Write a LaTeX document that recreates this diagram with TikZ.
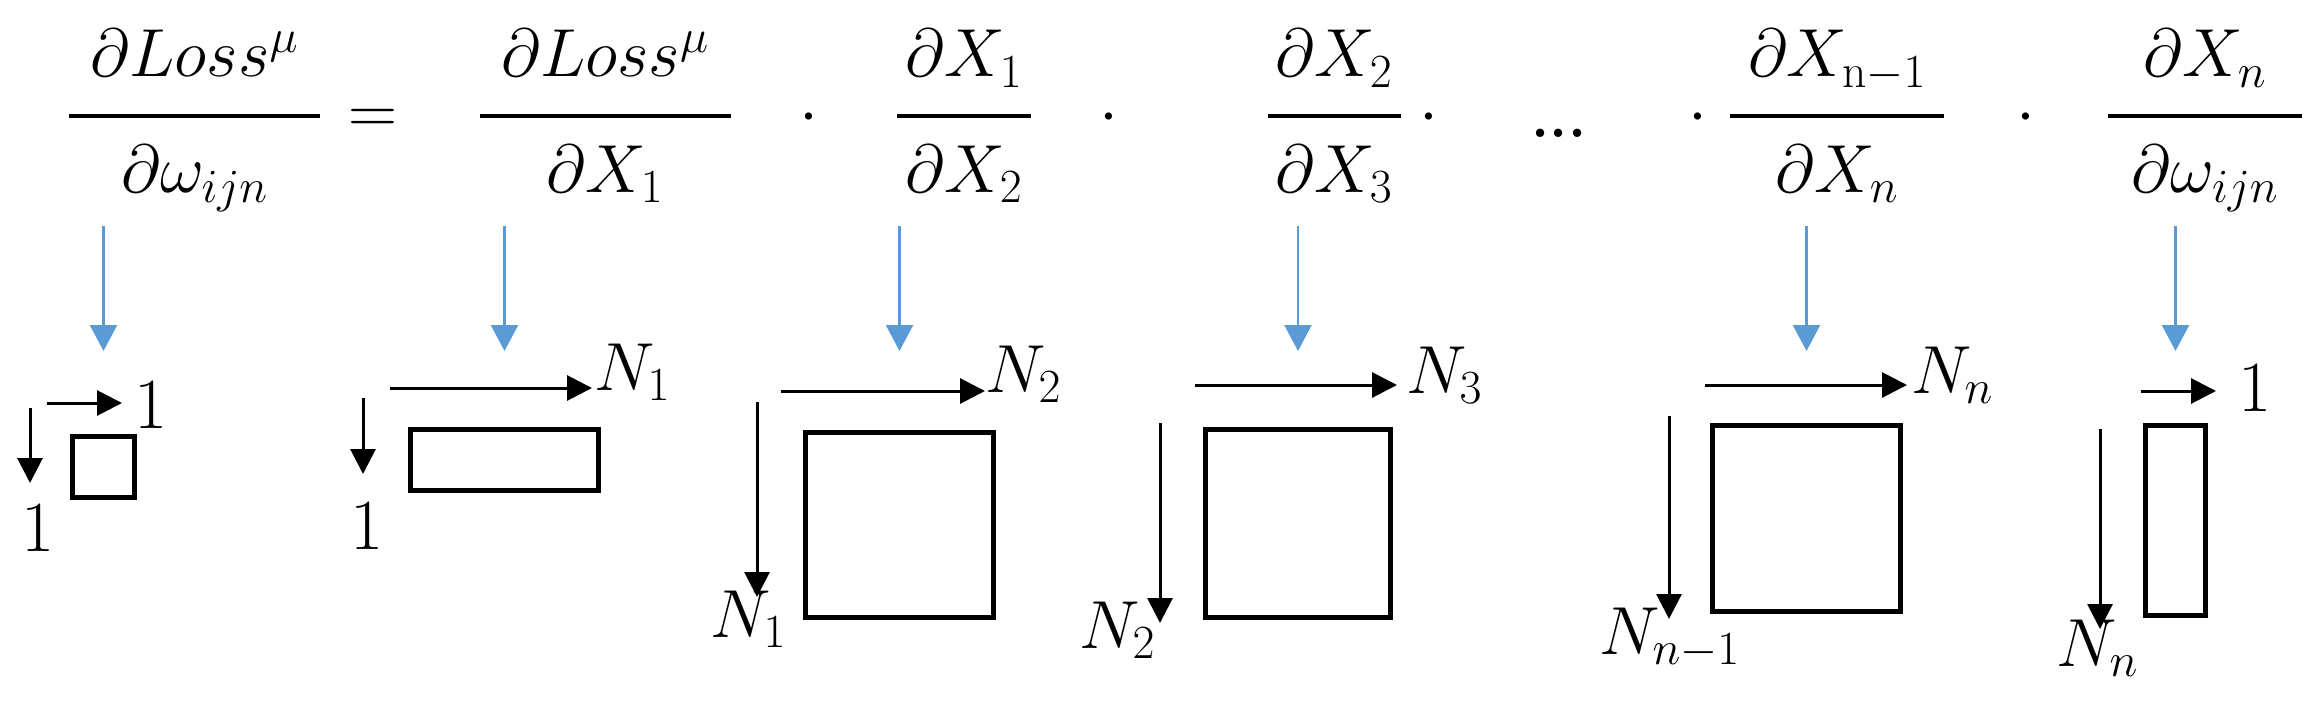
\RequirePackage{fix-cm}
\documentclass[tikz,border=0pt]{standalone}
\usepackage{amsmath}
\usetikzlibrary{arrows.meta}
\definecolor{refblue}{RGB}{91,155,213}
\tikzset{
  mt/.style={inner sep=0pt, font=\fontsize{68}{80}\selectfont},
  one/.style={inner sep=0pt, font=\fontsize{72}{84}\selectfont},
  dotsty/.style={inner sep=0pt, font=\fontsize{58}{70}\selectfont\bfseries},
  fbar/.style={line width=4pt},
  barrow/.style={draw=refblue, line width=2.5pt, -{Triangle[width=27pt,length=26pt]}},
  karrow/.style={draw=black, line width=3pt, -{Triangle[width=25pt,length=25pt]}},
  mat/.style={draw=black, line width=5pt, inner sep=0pt, outer sep=0pt, rectangle}
}
\begin{document}
\begin{tikzpicture}[x=1pt,y=-1pt]
\useasboundingbox (0,0) rectangle (2314,706);
% ---- top formula ----
\node[mt,anchor=base] (nA) at (194.5,77) {$\partial Loss^{\mu}$};
\node[mt,anchor=base] (dA) at (194.5,192) {$\partial\omega_{ijn}$};
\draw[fbar] (69,116) -- (320,116);
\node[mt,anchor=base] (eq) at (373,133) {$=$};
\node[mt,anchor=base] (nB) at (605,77) {$\partial Loss^{\mu}$};
\node[mt,anchor=base] (dB) at (605,192) {$\partial X_1$};
\draw[fbar] (480,116) -- (731,116);
\node[mt,anchor=base] (c1) at (809,134) {$\cdot$};
\node[mt,anchor=base] (nC) at (964,77) {$\partial X_1$};
\node[mt,anchor=base] (dC) at (964,192) {$\partial X_2$};
\draw[fbar] (897,116) -- (1031,116);
\node[mt,anchor=base] (c2) at (1109,134) {$\cdot$};
\node[mt,anchor=base] (nD) at (1334,77) {$\partial X_2$};
\node[mt,anchor=base] (dD) at (1334,192) {$\partial X_3$};
\draw[fbar] (1268,116) -- (1401,116);
\node[mt,anchor=base] (c3) at (1429,134) {$\cdot$};
\node[dotsty,anchor=base] (ell) at (1559,137) {...};
\node[mt,anchor=base] (c4) at (1698,134) {$\cdot$};
\node[mt,anchor=base] (nE) at (1837,77) {$\partial X_{\mathrm{n-1}}$};
\node[mt,anchor=base] (dE) at (1837,192) {$\partial X_n$};
\draw[fbar] (1730,116) -- (1944,116);
\node[mt,anchor=base] (c5) at (2026,134) {$\cdot$};
\node[mt,anchor=base] (nF) at (2205,77) {$\partial X_n$};
\node[mt,anchor=base] (dF) at (2205,192) {$\partial\omega_{ijn}$};
\draw[fbar] (2108,116) -- (2302,116);
% ---- matrices ----
\node[mat,minimum width=62pt,minimum height=61pt] (m1) at (103.5,467) {};
\node[mat,minimum width=188pt,minimum height=61pt] (m2) at (504.5,460) {};
\node[mat,minimum width=188pt,minimum height=185pt] (m3) at (899.5,525) {};
\node[mat,minimum width=185pt,minimum height=188pt] (m4) at (1298,523.5) {};
\node[mat,minimum width=188pt,minimum height=186pt] (m5) at (1806.5,518.5) {};
\node[mat,minimum width=60pt,minimum height=190pt] (m6) at (2175.5,520.5) {};
% ---- blue arrows ----
\foreach \i/\x in {1/103.5,2/504.5,3/899.5,4/1298,5/1806.5,6/2175.5}{
  \coordinate (bs\i) at (\x,226);
  \coordinate (be\i) at (\x,351);
  \draw[barrow] (bs\i) -- (be\i);
}
% ---- dimension arrows ----
% box 1
\coordinate (h1a) at (47,403); \coordinate (h1b) at (122,403);
\draw[karrow] (h1a) -- (h1b);
\node[one,anchor=base] (l1r) at (151,428) {$1$};
\coordinate (v1a) at (30,408); \coordinate (v1b) at (30,483);
\draw[karrow] (v1a) -- (v1b);
\node[one,anchor=base] (l1d) at (38,551) {$1$};
% box 2
\coordinate (h2a) at (390,388); \coordinate (h2b) at (592,388);
\draw[karrow] (h2a) -- (h2b);
\node[mt,anchor=base west] (l2r) at (594,390) {$N_1$};
\coordinate (v2a) at (363,398); \coordinate (v2b) at (363,474);
\draw[karrow] (v2a) -- (v2b);
\node[one,anchor=base] (l2d) at (367,549) {$1$};
% box 3
\coordinate (h3a) at (781,391); \coordinate (h3b) at (985,391);
\draw[karrow] (h3a) -- (h3b);
\node[mt,anchor=base west] (l3r) at (985,392) {$N_2$};
\coordinate (v3a) at (757,402); \coordinate (v3b) at (757,597);
\draw[karrow] (v3a) -- (v3b);
\node[mt,anchor=base west] (l3d) at (710,637) {$N_1$};
% box 4
\coordinate (h4a) at (1195,385); \coordinate (h4b) at (1397,385);
\draw[karrow] (h4a) -- (h4b);
\node[mt,anchor=base west] (l4r) at (1406,393) {$N_3$};
\coordinate (v4a) at (1160,423); \coordinate (v4b) at (1160,623);
\draw[karrow] (v4a) -- (v4b);
\node[mt,anchor=base west] (l4d) at (1079,648) {$N_2$};
% box 5
\coordinate (h5a) at (1705,385); \coordinate (h5b) at (1907,385);
\draw[karrow] (h5a) -- (h5b);
\node[mt,anchor=base west] (l5r) at (1911,393) {$N_n$};
\coordinate (v5a) at (1669,416); \coordinate (v5b) at (1669,619);
\draw[karrow] (v5a) -- (v5b);
\node[mt,anchor=base west] (l5d) at (1599,654) {$N_{n-1}$};
% box 6
\coordinate (h6a) at (2141,391); \coordinate (h6b) at (2216,391);
\draw[karrow] (h6a) -- (h6b);
\node[one,anchor=base] (l6r) at (2255,411) {$1$};
\coordinate (v6a) at (2100,429); \coordinate (v6b) at (2100,629);
\draw[karrow] (v6a) -- (v6b);
\node[mt,anchor=base west] (l6d) at (2056,666) {$N_n$};
\end{tikzpicture}
\end{document}
